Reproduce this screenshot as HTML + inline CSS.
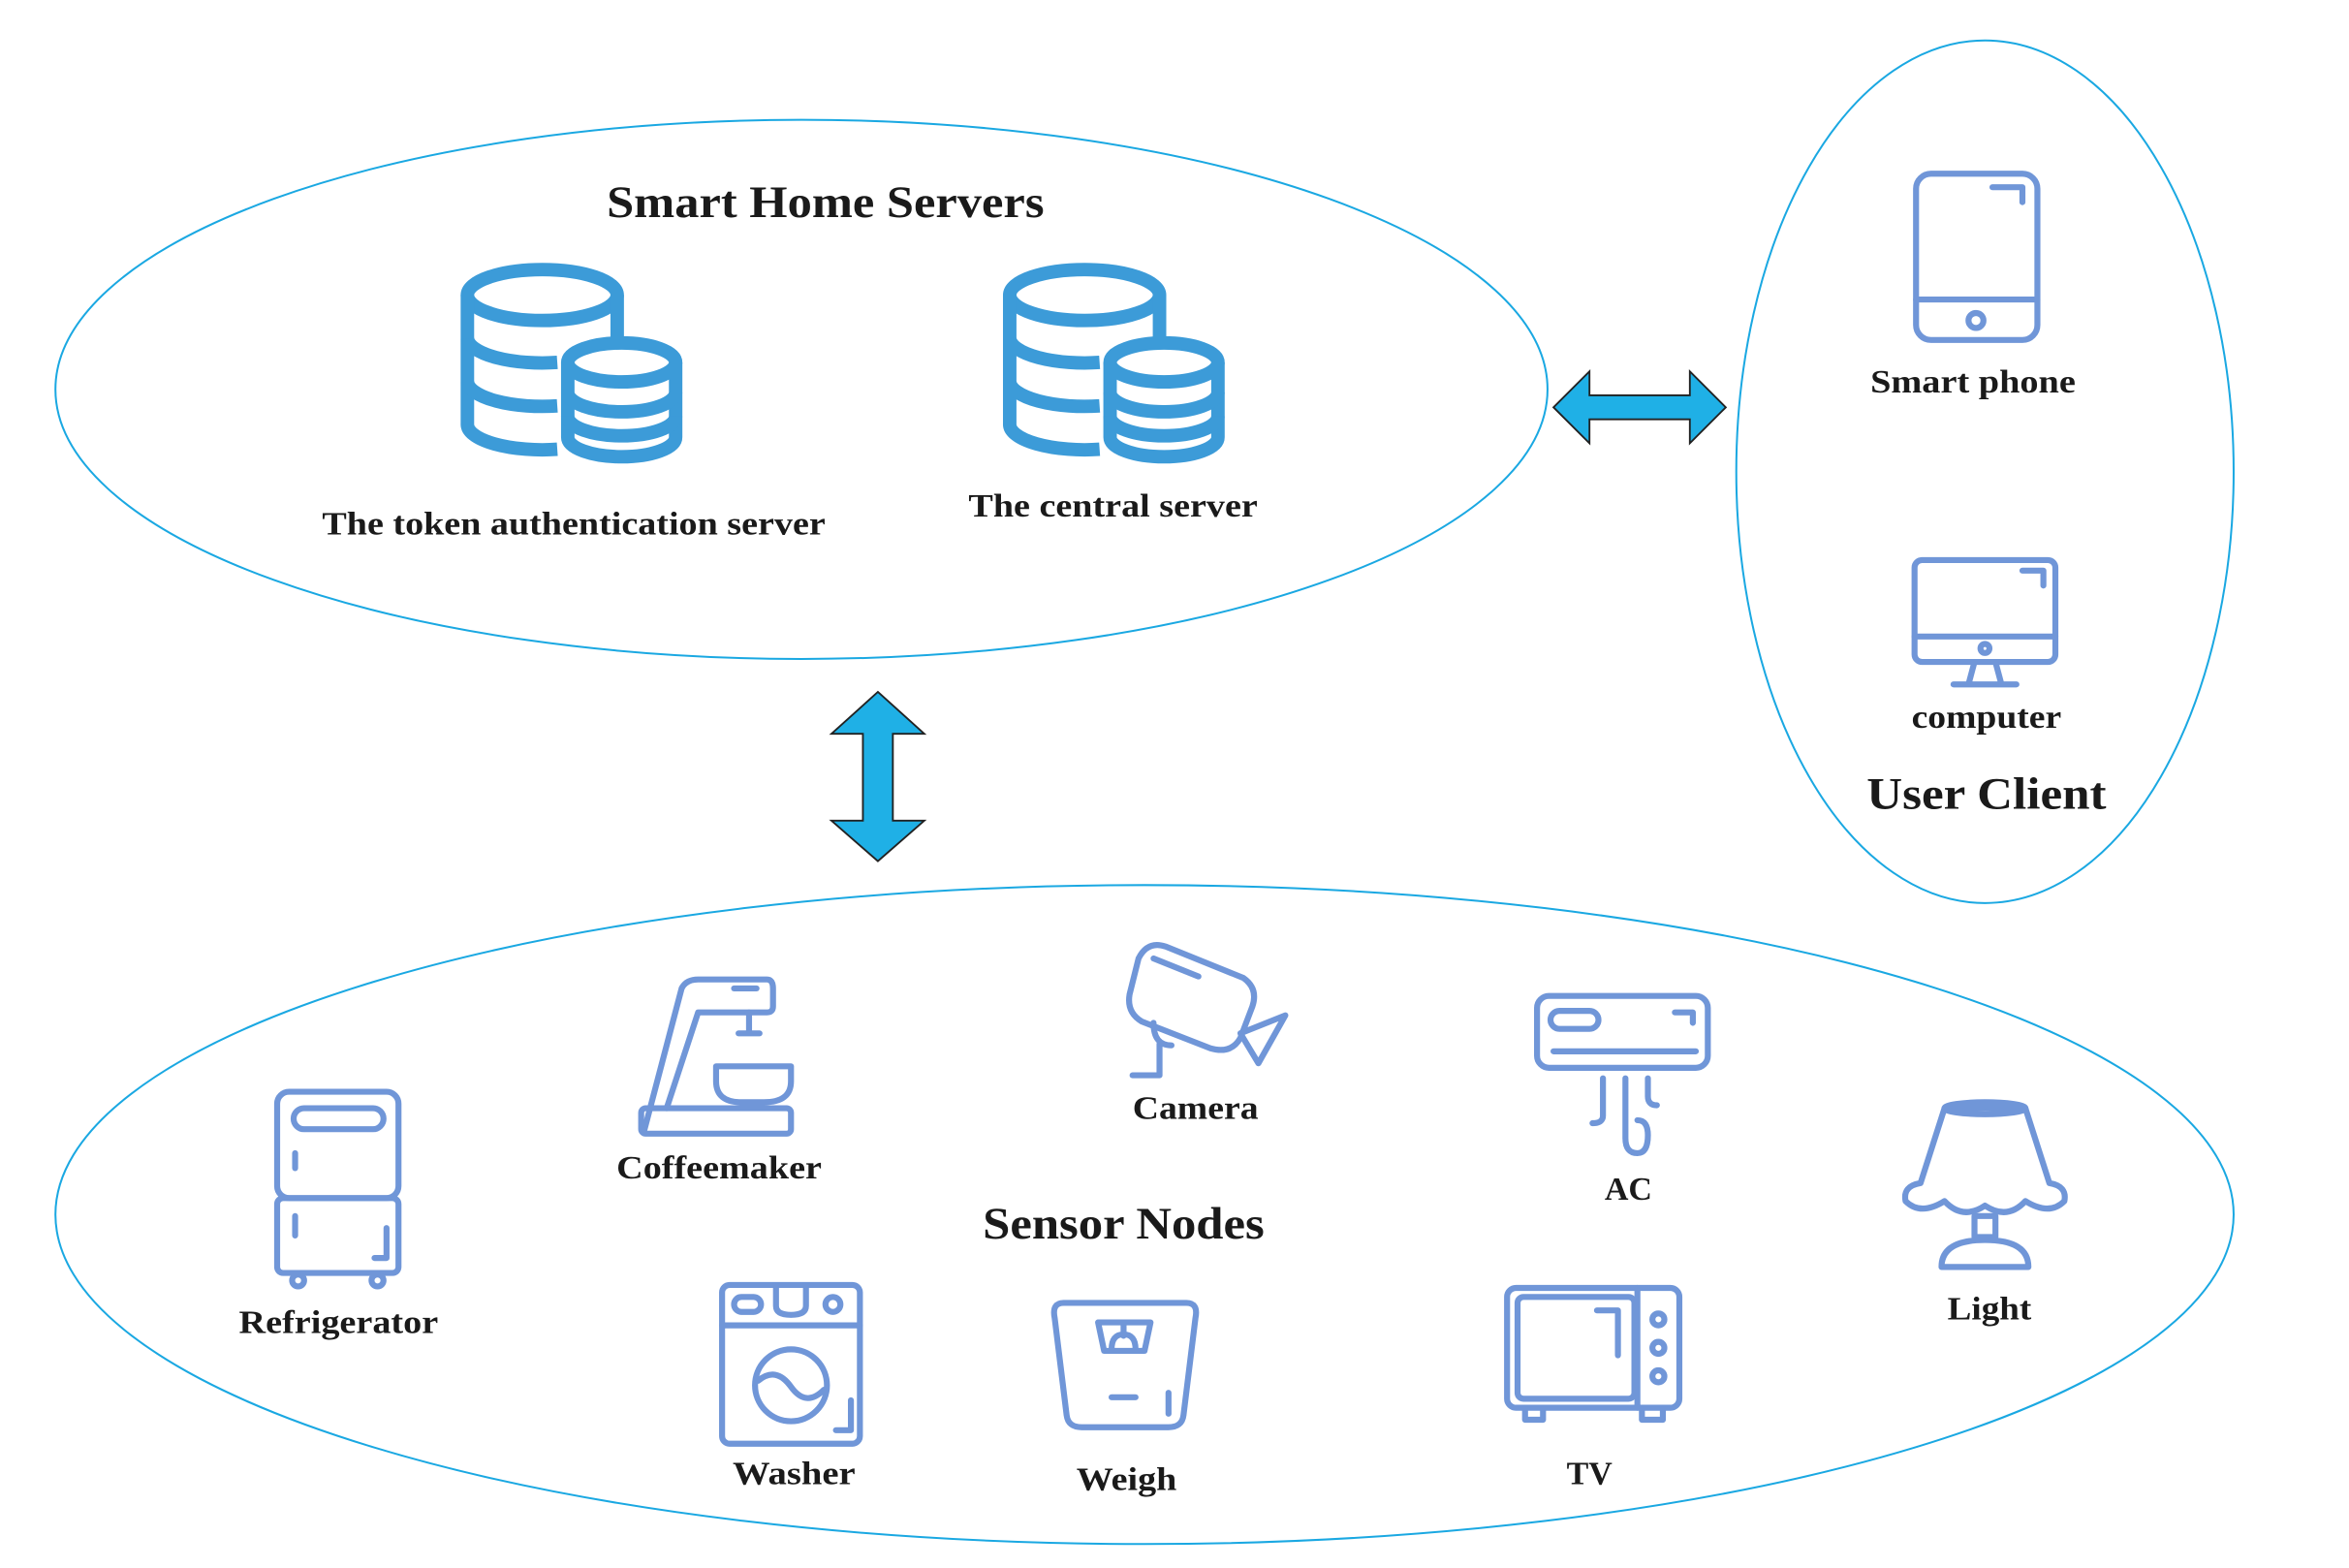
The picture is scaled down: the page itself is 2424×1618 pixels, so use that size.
<!DOCTYPE html>
<html><head><meta charset="utf-8"><style>
html,body{margin:0;padding:0;background:#fff;}
svg{display:block;}
text{font-family:"Liberation Serif",serif;font-weight:bold;fill:#1a1a1a;}
.ic{fill:none;stroke:#7096d8;stroke-width:4;stroke-linecap:round;stroke-linejoin:round;}
.db{fill:none;stroke:#3c9bd8;stroke-width:9;}
</style></head><body>
<svg width="2424" height="1618" viewBox="0 0 1568 1047" preserveAspectRatio="none" xmlns="http://www.w3.org/2000/svg">
<ellipse cx="535" cy="260" rx="498" ry="180" fill="none" stroke="#1aa8e2" stroke-width="1.3"/>
<ellipse cx="1325" cy="315" rx="166" ry="288" fill="none" stroke="#1aa8e2" stroke-width="1.3"/>
<ellipse cx="764" cy="811" rx="727" ry="220" fill="none" stroke="#1aa8e2" stroke-width="1.3"/>

<polygon points="1037,272 1061,248 1061,264 1128,264 1128,248 1152,272 1128,296 1128,280 1061,280 1061,296" fill="#1fb0e6" stroke="#222" stroke-width="1.2"/>
<polygon points="586,462 617,490 596,490 596,548 617,548 586,575 555,548 576,548 576,490 555,490" fill="#1fb0e6" stroke="#222" stroke-width="1.2"/>

<text x="551" y="145" font-size="30" text-anchor="middle" textLength="292" lengthAdjust="spacingAndGlyphs">Smart Home Servers</text>
<text x="1326" y="540" font-size="30" text-anchor="middle" textLength="160" lengthAdjust="spacingAndGlyphs">User Client</text>
<text x="750" y="827" font-size="30" text-anchor="middle" textLength="188" lengthAdjust="spacingAndGlyphs">Sensor Nodes</text>

<g id="dbA">
<ellipse cx="362" cy="197" rx="50" ry="17" class="db"/>
<path d="M312,197 V283 A50,17 0 0 0 372,300" class="db"/>
<path d="M312,226 A50,17 0 0 0 372,242 M312,255 A50,17 0 0 0 372,271" class="db"/>
<path d="M412,197 V228" class="db"/>
<ellipse cx="415" cy="242" rx="36" ry="13" class="db" style="fill:#fff"/>
<path d="M379,242 V292 A36,13 0 0 0 451,292 V242" class="db"/>
<path d="M379,262 A36,13 0 0 0 451,262 M379,278 A36,13 0 0 0 451,278" class="db"/>
</g>
<use href="#dbA" x="362" y="0"/>

<text x="383" y="357" font-size="22" text-anchor="middle" textLength="336" lengthAdjust="spacingAndGlyphs">The token authentication server</text>
<text x="743" y="345" font-size="22" text-anchor="middle" textLength="193" lengthAdjust="spacingAndGlyphs">The central server</text>

<rect x="1279" y="116" width="81" height="111" rx="10" class="ic"/>
<line x1="1279" y1="200" x2="1360" y2="200" class="ic"/>
<circle cx="1319" cy="214" r="5" class="ic"/>
<path d="M1330,125 H1350 V135" class="ic"/>
<text x="1317" y="262" font-size="22" text-anchor="middle" textLength="137" lengthAdjust="spacingAndGlyphs">Smart phone</text>

<rect x="1278" y="374" width="94" height="68" rx="5" class="ic"/>
<line x1="1278" y1="425" x2="1372" y2="425" class="ic"/>
<circle cx="1325" cy="433" r="3" class="ic"/>
<path d="M1318,442 L1314,457 M1332,442 L1336,457 M1304,457 H1346" class="ic"/>
<path d="M1350,381 H1364 V391" class="ic"/>
<text x="1326" y="486" font-size="22" text-anchor="middle" textLength="100" lengthAdjust="spacingAndGlyphs">computer</text>

<rect x="185" y="729" width="81" height="71" rx="8" class="ic"/>
<rect x="185" y="800" width="81" height="50" rx="4" class="ic"/>
<rect x="196" y="740" width="60" height="14" rx="7" class="ic"/>
<path d="M197,770 V780 M197,812 V825 M258,820 V840 H250" class="ic"/>
<circle cx="199" cy="855" r="4" class="ic"/><circle cx="252" cy="855" r="4" class="ic"/>
<text x="226" y="890" font-size="22" text-anchor="middle" textLength="133" lengthAdjust="spacingAndGlyphs">Refrigerator</text>

<path d="M430,755 L455,660 Q458,654 466,654 H512 Q516,654 516,660 V672 Q516,676 512,676 H466 L445,740" class="ic"/>
<rect x="428" y="740" width="100" height="17" rx="3" class="ic"/>
<path d="M478,712 H528 V722 Q528,736 510,736 H495 Q478,736 478,722 Z" class="ic"/>
<path d="M500,676 V690 M493,690 H507" class="ic"/>
<path d="M490,660 H505" class="ic"/>
<text x="480" y="787" font-size="22" text-anchor="middle" textLength="137" lengthAdjust="spacingAndGlyphs">Coffeemaker</text>

<path d="M760,640 Q766,628 778,632 L830,653 Q840,660 836,672 L828,693 Q822,704 808,700 L762,682 Q752,676 754,664 Z" class="ic"/>
<path d="M770,640 L800,652" class="ic"/>
<path d="M828,690 L858,678 L840,710 Z" class="ic"/>
<path d="M770,683 Q770,698 782,698 M774,697 V718 H756" class="ic"/>
<text x="798" y="747" font-size="22" text-anchor="middle" textLength="84" lengthAdjust="spacingAndGlyphs">Camera</text>

<rect x="1026" y="665" width="114" height="48" rx="8" class="ic"/>
<rect x="1035" y="675" width="32" height="12" rx="6" class="ic"/>
<path d="M1037,702 H1132 M1118,676 H1130 V683" class="ic"/>
<path d="M1070,720 V745 Q1070,750 1063,750 M1100,720 V732 Q1100,738 1106,738 M1085,720 V760 Q1085,770 1093,770 Q1100,770 1100,758 Q1100,748 1093,748" class="ic"/>
<text x="1087" y="801" font-size="22" text-anchor="middle">AC</text>

<path d="M1298,740 H1352 L1368,790 Q1380,792 1378,802 Q1368,812 1352,802 Q1340,815 1325,805 Q1310,815 1298,802 Q1282,812 1272,802 Q1270,792 1282,790 Z" class="ic"/>
<ellipse cx="1325" cy="740" rx="27" ry="4" class="ic"/>
<path d="M1318,812 H1332 V826 H1318 Z M1296,846 Q1296,828 1325,828 Q1354,828 1354,846 Z" class="ic"/>
<text x="1328" y="881" font-size="22" text-anchor="middle" textLength="56" lengthAdjust="spacingAndGlyphs">Light</text>

<rect x="482" y="858" width="92" height="106" rx="5" class="ic"/>
<line x1="482" y1="885" x2="574" y2="885" class="ic"/>
<rect x="490" y="866" width="18" height="10" rx="5" class="ic"/>
<path d="M518,860 V872 Q518,878 528,878 Q538,878 538,872 V860" class="ic"/>
<circle cx="556" cy="871" r="5" class="ic"/>
<circle cx="528" cy="925" r="24" class="ic"/>
<path d="M506,922 Q518,912 528,926 Q538,940 550,928" class="ic"/>
<path d="M568,935 V955 H558" class="ic"/>
<text x="530" y="991" font-size="22" text-anchor="middle" textLength="82" lengthAdjust="spacingAndGlyphs">Washer</text>

<path d="M710,870 H792 Q800,870 798,880 L790,945 Q789,953 780,953 H722 Q713,953 712,945 L704,880 Q702,870 710,870 Z" class="ic"/>
<path d="M733,883 H768 L764,902 H737 Z" class="ic"/>
<path d="M742,901 Q742,891 750,891 Q758,891 758,901 M750,884 V892" class="ic"/>
<path d="M742,933 H758 M780,930 V944" class="ic"/>
<text x="752" y="995" font-size="22" text-anchor="middle" textLength="67" lengthAdjust="spacingAndGlyphs">Weigh</text>

<rect x="1006" y="860" width="115" height="80" rx="6" class="ic"/>
<rect x="1013" y="866" width="78" height="68" rx="4" class="ic"/>
<line x1="1093" y1="860" x2="1093" y2="940" class="ic"/>
<circle cx="1107" cy="881" r="4" class="ic"/><circle cx="1107" cy="900" r="4" class="ic"/><circle cx="1107" cy="919" r="4" class="ic"/>
<path d="M1066,875 H1080 V905" class="ic"/>
<path d="M1018,940 V948 H1030 V940 M1096,940 V948 H1110 V940" class="ic"/>
<text x="1061" y="991" font-size="22" text-anchor="middle">TV</text>
</svg>
</body></html>
